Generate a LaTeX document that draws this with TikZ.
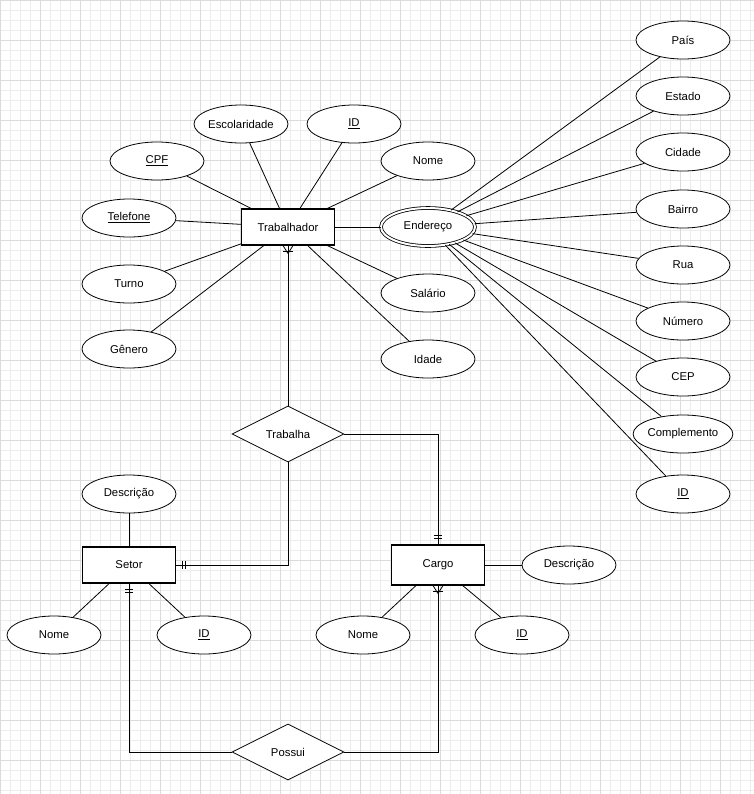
\documentclass[tikz,border=0pt]{standalone}
\usepackage{fontspec}
\setmainfont{Liberation Sans}
\usetikzlibrary{shapes.geometric,calc}
\begin{document}
\begin{tikzpicture}[x=0.75pt,y=-0.75pt,
  every node/.style={font=\fontsize{8.5}{10}\selectfont},
  ent/.style={draw,line width=0.8pt,minimum width=69.75pt,minimum height=27pt,fill=white},
  attr/.style={draw,line width=0.6pt,ellipse,minimum width=70.5pt,minimum height=28.5pt,fill=white,inner sep=0pt},
  rel/.style={draw,line width=0.6pt,diamond,aspect=2,minimum width=84pt,minimum height=42pt,inner sep=0pt,fill=white},
  ln/.style={draw,line width=0.6pt},
  mk/.style={draw,line width=0.6pt}]
\useasboundingbox (0,0) rectangle (754,794);
\fill[white] (0,0) rectangle (754,794);
\foreach \i in {0,10,...,750}{\draw[gray!15,line width=0.3pt] (\i,0) -- (\i,794);}
\foreach \i in {0,10,...,790}{\draw[gray!15,line width=0.3pt] (0,\i) -- (754,\i);}
\foreach \i in {0,40,...,750}{\draw[gray!28,line width=0.4pt] (\i,0) -- (\i,794);}
\foreach \i in {0,40,...,790}{\draw[gray!28,line width=0.4pt] (0,\i) -- (754,\i);}
% entities
\node[ent] (trab) at (288,227) {Trabalhador};
\node[ent] (setor) at (129,565) {Setor};
\node[ent,minimum height=30pt] (cargo) at (438,565) {Cargo};
% relationships
\node[rel] (trabalha) at (288,434) {Trabalha};
\node[rel] (possui) at (288,752) {Possui};
% attributes of Trabalhador
\node[attr] (esc) at (241,124) {Escolaridade};
\node[attr] (tid) at (354,124) {\underline{ID}};
\node[attr] (cpf) at (157,161) {\underline{CPF}};
\node[attr] (tnome) at (428,161) {Nome};
\node[attr] (tel) at (129,218) {\underline{Telefone}};
\node[attr] (turno) at (129,284) {Turno};
\node[attr] (sal) at (428,293) {Salário};
\node[attr] (gen) at (129,349) {Gênero};
\node[attr] (idade) at (428,359) {Idade};
\node[attr,double,double distance=1.5pt] (end) at (428,227) {Endereço};
\foreach \n in {esc,tid,cpf,tnome,tel,turno,sal,gen,idade,end}{\draw[ln] (\n) -- (trab);}
% Endereco attributes
\node[attr] (pais) at (683,40) {País};
\node[attr] (est) at (683,96) {Estado};
\node[attr] (cid) at (683,152) {Cidade};
\node[attr] (bai) at (683,209) {Bairro};
\node[attr] (rua) at (683,265) {Rua};
\node[attr] (num) at (683,321) {Número};
\node[attr] (cep) at (683,377) {CEP};
\node[attr] (comp) at (683,434) {Complemento};
\node[attr] (eid) at (683,494) {\underline{ID}};
\foreach \n in {pais,est,cid,bai,rua,num,cep,comp,eid}{\draw[ln] (end) -- (\n);}
% Setor attributes
\node[attr] (sdesc) at (129,494) {Descrição};
\node[attr] (snome) at (54,635) {Nome};
\node[attr] (sid) at (204,635) {\underline{ID}};
\draw[ln] (sdesc) -- (setor);
\draw[ln] (snome) -- (setor);
\draw[ln] (sid) -- (setor);
% Cargo attributes
\node[attr] (cdesc) at (569,565) {Descrição};
\node[attr] (cnome) at (363,635) {Nome};
\node[attr] (cid2) at (522,635) {\underline{ID}};
\draw[ln] (cdesc) -- (cargo);
\draw[ln] (cnome) -- (cargo);
\draw[ln] (cid2) -- (cargo);
% relationship connectors
\draw[ln] (trab.south) -- (trabalha.north);
\draw[ln] (trabalha.east) -| (cargo.north);
\draw[ln] (trabalha.south) |- (setor.east);
\draw[ln] (possui.west) -| (setor.south);
\draw[ln] (possui.east) -| (cargo.south);
% cardinality marks
\draw[mk] ($(trab.south)+(-5,6)$) -- ++(10,0);
\draw[mk] ($(trab.south)+(0,8)$) -- ++(-5,-8) ($(trab.south)+(0,8)$) -- ++(5,-8);
\draw[mk] ($(cargo.south)+(-5,6)$) -- ++(10,0);
\draw[mk] ($(cargo.south)+(0,8)$) -- ++(-5,-8) ($(cargo.south)+(0,8)$) -- ++(5,-8);
\draw[mk] ($(cargo.north)+(-4,-6)$) -- ++(8,0) ($(cargo.north)+(-4,-9)$) -- ++(8,0);
\draw[mk] ($(setor.south)+(-4,6)$) -- ++(8,0) ($(setor.south)+(-4,9)$) -- ++(8,0);
\draw[mk] ($(setor.east)+(6,-4)$) -- ++(0,8) ($(setor.east)+(9,-4)$) -- ++(0,8);
\end{tikzpicture}
\end{document}
